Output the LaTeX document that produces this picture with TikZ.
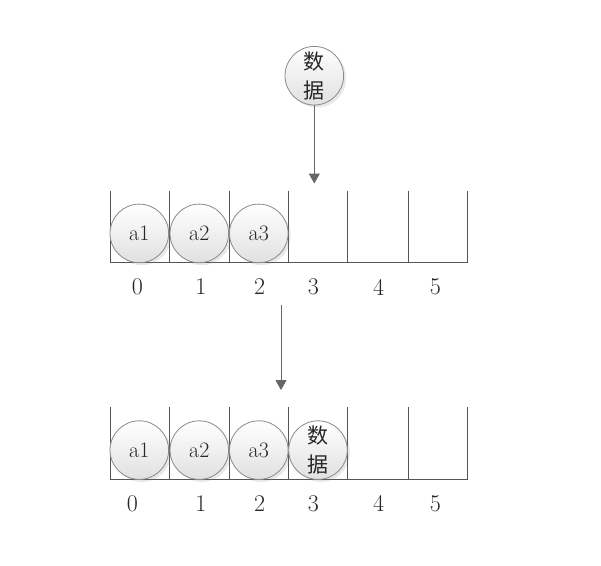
\documentclass[tikz,border=0pt]{standalone}
\usepackage{fontspec}
\newfontfamily\cjk{Noto Sans CJK SC}
\usetikzlibrary{shadows,arrows.meta}
\definecolor{linec}{HTML}{555555}
\definecolor{ballc}{HTML}{8A8A8A}
\definecolor{arrc}{HTML}{666666}
\tikzset{
  ball/.style={circle, minimum size=58.6pt, inner sep=0pt, draw=ballc, line width=0.8pt,
    top color=white, bottom color=black!12,
    drop shadow={shadow xshift=2.5pt, shadow yshift=-2.5pt, opacity=0.18},
    font=\fontsize{22}{22}\selectfont, text=black!85},
  databall/.style={ball, align=center, font=\cjk\fontsize{21}{29}\selectfont},
  idx/.style={font=\fontsize{24}{24}\selectfont, text=black!85, inner sep=0pt},
  cell/.style={draw=linec, line width=0.9pt},
  arr/.style={draw=arrc, line width=1pt, -{Triangle[length=10pt,width=11pt]}, arrc}
}
\begin{document}
\begin{tikzpicture}[x=1pt,y=-1pt]
\useasboundingbox (0,0) rectangle (601,565);
\fill[white] (0,0) rectangle (601,565);
% top array
\draw[cell] (110.3,190.7) -- (110.3,262.7) -- (467.3,262.7) -- (467.3,190.7);
\foreach \x in {169.3,229.3,288.3,347.3,408.3} \draw[cell] (\x,190.7) -- (\x,262.7);
% bottom array
\draw[cell] (110.3,407.3) -- (110.3,479.3) -- (467.3,479.3) -- (467.3,407.3);
\foreach \x in {169.3,229.3,288.3,347.3,408.3} \draw[cell] (\x,407.3) -- (\x,479.3);
% top row
\node[databall] (d1) at (314.3,75.7) {数\\据};
\node[ball] (ta1) at (139.3,233.4) {a1};
\node[ball] (ta2) at (199.3,233.4) {a2};
\node[ball] (ta3) at (258.8,233.4) {a3};
\coordinate (t1) at (314.3,183.5);
\draw[arr] (d1.south) -- (t1);
\node[idx] (ti0) at (137.3,287) {0};
\node[idx] (ti1) at (201,287) {1};
\node[idx] (ti2) at (259.7,287) {2};
\node[idx] (ti3) at (313.3,287) {3};
\node[idx] (ti4) at (378.7,287) {4};
\node[idx] (ti5) at (435.3,287) {5};
% middle arrow
\coordinate (m0) at (281,305);
\coordinate (m1) at (281,390);
\draw[arr] (m0) -- (m1);
% bottom row
\node[ball] (ba1) at (139.3,450.1) {a1};
\node[ball] (ba2) at (199.3,450.1) {a2};
\node[ball] (ba3) at (258.8,450.1) {a3};
\node[databall] (d2) at (318,450.1) {数\\据};
\node[idx] (bi0) at (132.3,503.5) {0};
\node[idx] (bi1) at (201,503.5) {1};
\node[idx] (bi2) at (259.7,503.5) {2};
\node[idx] (bi3) at (313.3,503.5) {3};
\node[idx] (bi4) at (378.7,503.5) {4};
\node[idx] (bi5) at (435.3,503.5) {5};
\end{tikzpicture}
\end{document}
